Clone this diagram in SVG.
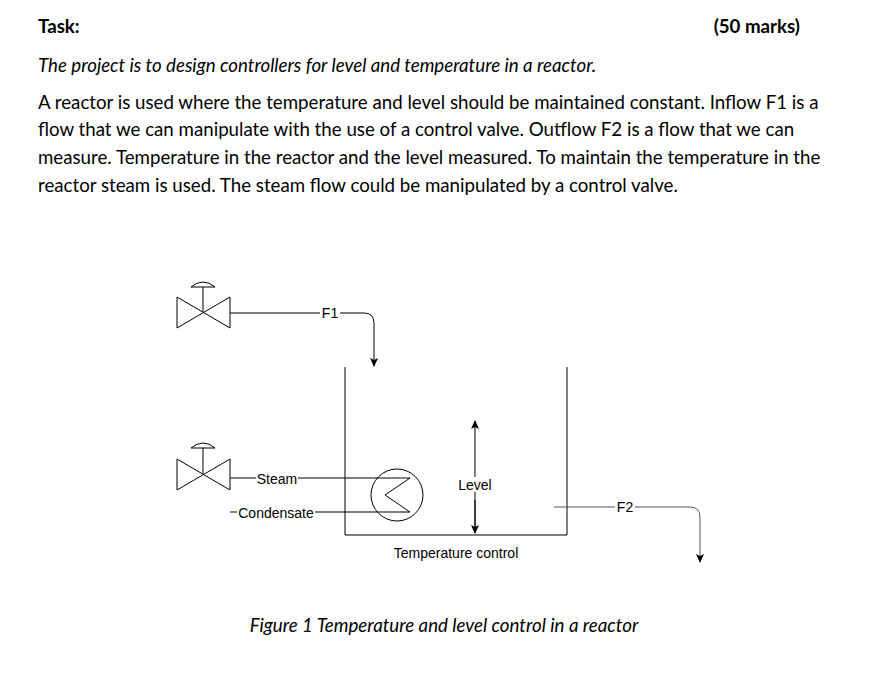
<svg xmlns="http://www.w3.org/2000/svg" width="893" height="673" viewBox="0 0 893 673">
<style>
.t{font-family:Lato,"Open Sans",sans-serif;font-size:18.7px;fill:#000}
.d{font-family:"Liberation Sans",Arial,sans-serif;font-size:14px;fill:#000}
.s{stroke:#000;stroke-width:1;fill:none}
.g{stroke:#555;stroke-width:1;fill:none}
</style>
<defs><marker id="a" markerWidth="10" markerHeight="10" refX="8" refY="5" orient="auto" markerUnits="userSpaceOnUse"><path d="M0,1 L9,5 L0,9 L2,5 Z" fill="#000"/></marker></defs>
<rect width="893" height="673" fill="#fff"/>
<text class="t" x="38" y="33" font-weight="bold">Task:</text>
<text class="t" x="800" y="33" font-weight="bold" text-anchor="end">(50 marks)</text>
<text class="t" x="38" y="72" font-style="italic">The project is to design controllers for level and temperature in a reactor.</text>
<text class="t" x="38" y="109">A reactor is used where the temperature and level should be maintained constant. Inflow F1 is a</text>
<text class="t" x="38" y="136">flow that we can manipulate with the use of a control valve. Outflow F2 is a flow that we can</text>
<text class="t" x="38" y="164">measure. Temperature in the reactor and the level measured. To maintain the temperature in the</text>
<text class="t" x="38" y="192">reactor steam is used. The steam flow could be manipulated by a control valve.</text>
<g id="valve1" class="s"><path d="M177,297 L230,328 L230,297 L177,328 Z"/><path d="M203,312 V287"/><path d="M191,287 Q203,277 215,287 Z"/></g>
<g id="valve2" class="s"><path d="M177,459 L230,490 L230,459 L177,490 Z"/><path d="M203,474 V448"/><path d="M191,448 Q203,438 215,448 Z"/></g>
<g id="vessel" class="s"><path d="M345,367 V535 H567 V367"/></g>
<g id="coil" class="s"><circle cx="397" cy="495" r="26"/><path d="M410,478 L385,495 L410,512"/></g>
<g id="connectors">
<path class="s" d="M230,313 H364 Q374,313 374,323 V366" marker-end="url(#a)"/>
<path class="s" d="M230,478 H410"/>
<path class="s" d="M230,512 H410"/>
<path class="s" d="M475,533 V421" marker-end="url(#a)"/>
<path class="s" d="M475,500 V533" marker-end="url(#a)"/>
<path class="g" d="M554,507 H690 Q700,507 700,517 V562" marker-end="url(#a)"/>
</g>
<g class="d">
<rect x="320" y="306" width="20" height="14" fill="#fff"/><text x="330" y="318" text-anchor="middle">F1</text>
<rect x="256" y="471" width="42" height="14" fill="#fff"/><text x="277" y="484" text-anchor="middle">Steam</text>
<rect x="237" y="505" width="78" height="14" fill="#fff"/><text x="276" y="518" text-anchor="middle">Condensate</text>
<rect x="456" y="477" width="38" height="15" fill="#fff"/><text x="475" y="490" text-anchor="middle">Level</text>
<rect x="615" y="500" width="20" height="14" fill="#fff"/><text x="625" y="512" text-anchor="middle">F2</text>
<text x="456" y="558" text-anchor="middle">Temperature control</text>
</g>
<text class="t" x="444" y="632" font-size="16" font-style="italic" text-anchor="middle">Figure 1 Temperature and level control in a reactor</text>
</svg>
